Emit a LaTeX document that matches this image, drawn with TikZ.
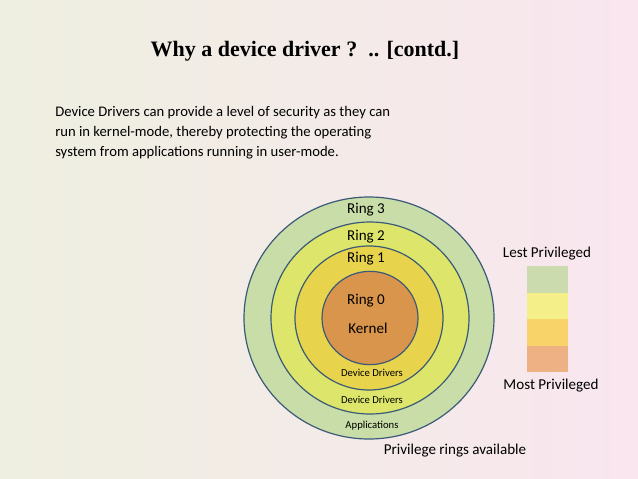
\documentclass[tikz,border=0pt]{standalone}
\usepackage{fontspec}
\usetikzlibrary{shapes.geometric}
\setmainfont{Carlito}
\newfontfamily\titlefont{Liberation Serif}
\begin{document}
\begin{tikzpicture}[x=0.75pt,y=-0.75pt,
  ring/.style={draw=ringline,line width=0.9pt,ellipse,inner sep=0pt},
  lbl/.style={inner sep=0pt,font=\fontsize{11.3}{13}\selectfont},
  slbl/.style={inner sep=0pt,font=\fontsize{8}{9}\selectfont},
  sw/.style={minimum width=30.75pt,minimum height=20pt,inner sep=0pt,anchor=north west}]
\definecolor{ringline}{HTML}{3A5A78}
\definecolor{c3}{HTML}{C9DDA8}
\definecolor{c2}{HTML}{DDE66A}
\definecolor{c1}{HTML}{E8D34C}
\definecolor{c0}{HTML}{D9954C}
\definecolor{s3}{HTML}{CBDBAE}
\definecolor{s2}{HTML}{F5EF8A}
\definecolor{s1}{HTML}{F7D36A}
\definecolor{s0}{HTML}{EDB184}
\definecolor{bgl}{HTML}{EEEFE0}
\definecolor{bgm}{HTML}{F2ECE6}
\definecolor{bgr}{HTML}{F9E6EF}
\shade[left color=bgl,middle color=bgm,right color=bgr] (0,0) rectangle (638,478);
\useasboundingbox (0,0) rectangle (638,478);
\node[font=\titlefont\bfseries\fontsize{16.5}{19}\selectfont] (title) at (305,51) {Why a device driver ?\ \ .. [contd.]};
\node[anchor=north west,align=left,inner sep=0pt,font=\fontsize{11}{15}\selectfont] (para) at (55,106)
 {Device Drivers can provide a level of security as they can\\run in kernel-mode, thereby protecting the operating\\system from applications running in user-mode.};
\node[ring,fill=c3,minimum width=187.5pt,minimum height=181.5pt] (r3) at (369,318) {};
\node[ring,fill=c2,minimum width=148.5pt,minimum height=144pt] (r2) at (370,318) {};
\node[ring,fill=c1,minimum width=111pt,minimum height=108pt] (r1) at (369,318) {};
\node[ring,fill=c0,minimum width=72pt,minimum height=70pt] (r0) at (370,318) {};
\node[lbl] (t3) at (366,210) {Ring 3};
\node[lbl] (t2) at (366,237) {Ring 2};
\node[lbl] (t1) at (366,259) {Ring 1};
\node[lbl] (t0) at (366,301) {Ring 0};
\node[lbl] (tk) at (368,328) {Kernel};
\node[slbl] (d1) at (372,373) {Device Drivers};
\node[slbl] (d2) at (372,400) {Device Drivers};
\node[slbl] (ap) at (372,426) {Applications};
\node[lbl] (cap) at (455,451) {Privilege rings available};
\node[lbl] (lp) at (547,254) {Lest Privileged};
\node[lbl] (mp) at (551,386) {Most Privileged};
\node[sw,fill=s3] (q3) at (527,266) {};
\node[sw,fill=s2] (q2) at (527,292.5) {};
\node[sw,fill=s1] (q1) at (527,319) {};
\node[sw,fill=s0] (q0) at (527,345.5) {};
\end{tikzpicture}
\end{document}
